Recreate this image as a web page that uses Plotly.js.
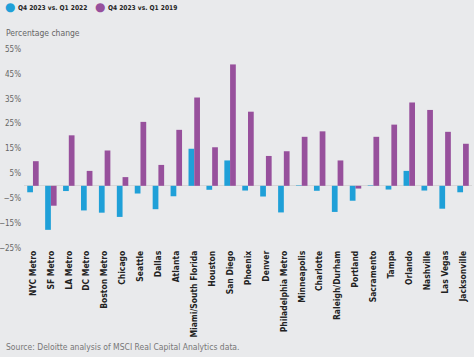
<!DOCTYPE html>
<html>
<head>
<meta charset="utf-8">
<script src="https://cdn.plot.ly/plotly-3.0.1.min.js"></script>
<style>
  html, body { margin: 0; padding: 0; background: #e9eaec; }
  #chart { width: 474px; height: 357px; }
</style>
</head>
<body>
<div id="chart"></div>
<script>
const categories = ["NYC Metro", "SF Metro", "LA Metro", "DC Metro", "Boston Metro", "Chicago", "Seattle", "Dallas", "Atlanta", "Miami/South Florida", "Houston", "San Diego", "Phoenix", "Denver", "Philadelphia Metro", "Minneapolis", "Charlotte", "Raleigh/Durham", "Portland", "Sacramento", "Tampa", "Orlando", "Nashville", "Las Vegas", "Jacksonville"];
const vsQ1_2022 = [-2.6, -17.7, -2.1, -9.9, -10.8, -12.5, -3.1, -9.4, -4.2, 14.9, -1.6, 10.2, -1.9, -4.3, -10.7, 0.2, -2.0, -10.5, -6.0, 0.2, -1.5, 6.0, -1.9, -9.2, -2.6];
const vsQ1_2019 = [9.9, -8.0, 20.3, 6.0, 14.2, 3.5, 25.7, 8.4, 22.5, 35.5, 15.5, 48.8, 29.8, 12.0, 13.9, 19.7, 21.9, 10.2, -1.1, 19.7, 24.6, 33.5, 30.5, 21.7, 16.9];
const tickValues = [-25, -15, -5, 5, 15, 25, 35, 45, 55];
const tickLabels = ["\u221225%", "\u221215%", "\u22125%", "5%", "15%", "25%", "35%", "45%", "55%"];
const seriesNames = ["Q4 2023 vs. Q1 2022", "Q4 2023 vs. Q1 2019"];

const BLUE = "#1fa0d8";
const PURPLE = "#97509c";
const condensed = "'Liberation Sans Narrow', 'DejaVu Sans Condensed', 'Arial Narrow', sans-serif";

const traces = [
  { type: "bar", x: categories, y: vsQ1_2022, name: seriesNames[0], marker: { color: BLUE }, showlegend: false, hoverinfo: "skip" },
  { type: "bar", x: categories, y: vsQ1_2019, name: seriesNames[1], marker: { color: PURPLE }, showlegend: false, hoverinfo: "skip" }
];

function dot(color, x) {
  return { text: "\u25CF", xref: "paper", yref: "paper", x: x, y: 1.21, xanchor: "center", yanchor: "middle",
    showarrow: false, borderpad: 0, font: { family: "DejaVu Sans", size: 12, color: color } };
}
function label(name, x) {
  return { text: name, xref: "paper", yref: "paper", x: x, y: 1.206, xanchor: "left", yanchor: "middle",
    showarrow: false, borderpad: 0, font: { family: condensed, size: 6.6, color: "#222", weight: "bold" } };
}

const layout = {
  width: 474, height: 357,
  paper_bgcolor: "#e9eaec", plot_bgcolor: "#e9eaec",
  margin: { l: 24, r: 2, t: 49, b: 109, pad: 0, autoexpand: false },
  barmode: "group", bargap: 0.36, bargroupgap: 0,
  showlegend: false,
  xaxis: {
    type: "category", tickangle: -90, showgrid: false, zeroline: false, showline: false,
    ticks: "", ticklen: 0, automargin: false,
    tickfont: { family: condensed, size: 8.5, color: "#222", weight: "bold" }
  },
  yaxis: {
    range: [-25, 55], tickvals: tickValues, ticktext: tickLabels,
    showgrid: false, zeroline: true, zerolinecolor: "#d6d6d6", zerolinewidth: 1,
    showline: false, ticks: "", ticklabelstandoff: 2, automargin: false,
    tickfont: { family: condensed, size: 8, color: "#666" }
  },
  annotations: [
    dot(BLUE, -0.0313), label(seriesNames[0], -0.0156),
    dot(PURPLE, 0.1696), label(seriesNames[1], 0.185),
    { text: "Percentage change", xref: "paper", yref: "paper", x: -0.045, y: 1.08, xanchor: "left", yanchor: "middle",
      showarrow: false, font: { family: condensed, size: 8.5, color: "#666" } },
    { text: "Source: Deloitte analysis of MSCI Real Capital Analytics data.", xref: "paper", yref: "paper", x: -0.045, y: -0.497,
      xanchor: "left", yanchor: "middle", showarrow: false, font: { family: condensed, size: 8.5, color: "#777" } }
  ]
};

Plotly.newPlot("chart", traces, layout, { displayModeBar: false, staticPlot: true });
</script>
</body>
</html>
